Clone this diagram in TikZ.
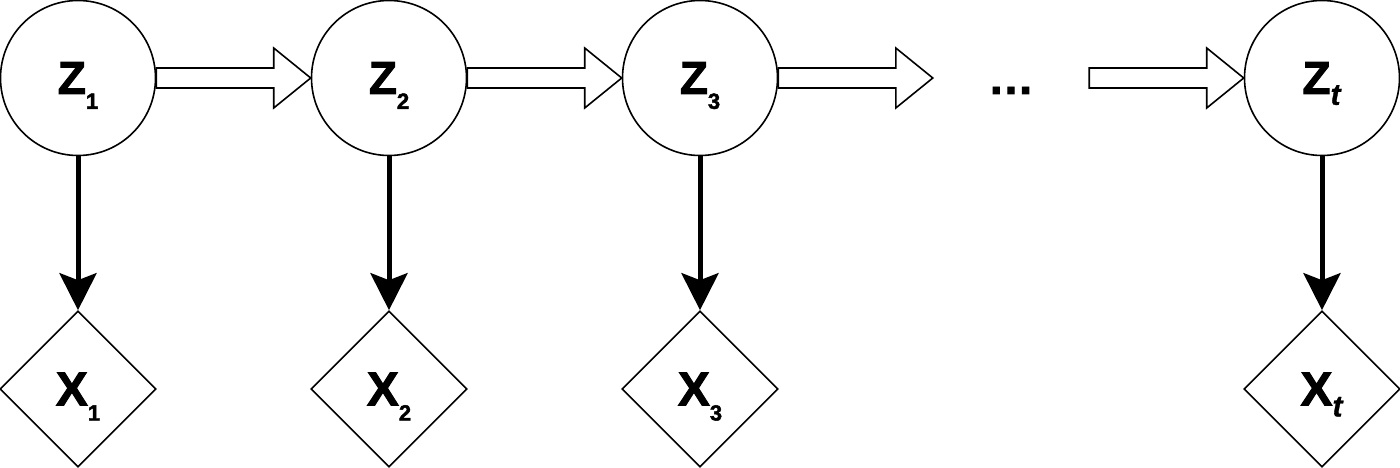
\documentclass[tikz,border=0pt]{standalone}
\usepackage{fontspec}
\setmainfont{Liberation Sans}[BoldFeatures={FakeBold=2}, BoldItalicFeatures={FakeBold=1}]
\usetikzlibrary{positioning,shapes.geometric,arrows.meta,calc}

\newcommand{\lbl}[2]{\textbf{#1}\raisebox{-15pt}[0pt][0pt]{\fontsize{22}{22}\selectfont\textbf{#2}}}
\newcommand{\lblt}[1]{\textbf{#1}\raisebox{-11pt}[0pt][0pt]{\fontsize{30}{30}\selectfont\textbf{\textit{t}}}}

\tikzset{
  state/.style={draw, circle, line width=1.6pt, minimum size=155pt, inner sep=0pt, font=\fontsize{46}{46}\selectfont},
  obs/.style={draw, diamond, line width=1.6pt, minimum width=156pt, minimum height=156pt, inner sep=0pt, font=\fontsize{48}{48}\selectfont},
  emit/.style={line width=5pt, -{Stealth[width=37pt,length=37pt,inset=7pt]}},
  trans/.style={line width=1.6pt, to path={let \p1=(\tikztostart), \p2=(\tikztotarget) in
    (\x1,\y1+10pt) -- (\x2-37pt,\y1+10pt) -- (\x2-37pt,\y1+30pt) -- (\x2,\y1)
    -- (\x2-37pt,\y1-30pt) -- (\x2-37pt,\y1-10pt) -- (\x1,\y1-10pt) -- cycle}}
}

\begin{document}
\begin{tikzpicture}[x=1pt, y=1pt, node distance=311pt]
\path[use as bounding box, fill=white] (0,0) rectangle (1400,-468);

\node[state] (z1) at (78,-78) {\lbl{Z}{1}};
\node[obs, below of = z1] (x1) {\lbl{X}{1}};

\node[state, right of = z1] (z2) {\lbl{Z}{2}};
\node[obs, below of = z2] (x2) {\lbl{X}{2}};

\node[state, right of = z2] (z3) {\lbl{Z}{3}};
\node[obs, below of = z3] (x3) {\lbl{X}{3}};

\node[right of = z3, minimum width=156pt, inner sep=0pt, font=\fontsize{46}{46}\selectfont\bfseries] (dots) {\vphantom{Z}…};

\node[state, right of = dots] (zt) {\lblt{Z}};
\node[obs, below of = zt] (xt) {\lblt{X}};

\draw[emit] (z1) -- (x1);
\draw[emit] (z2) -- (x2);
\draw[emit] (z3) -- (x3);
\draw[emit] (zt) -- (xt);

\draw[trans] (z1.east) to (z2.west);
\draw[trans] (z2.east) to (z3.west);
\draw[trans] (z3.east) to (dots.west);
\draw[trans] (dots.east) to (zt.west);
\end{tikzpicture}
\end{document}
